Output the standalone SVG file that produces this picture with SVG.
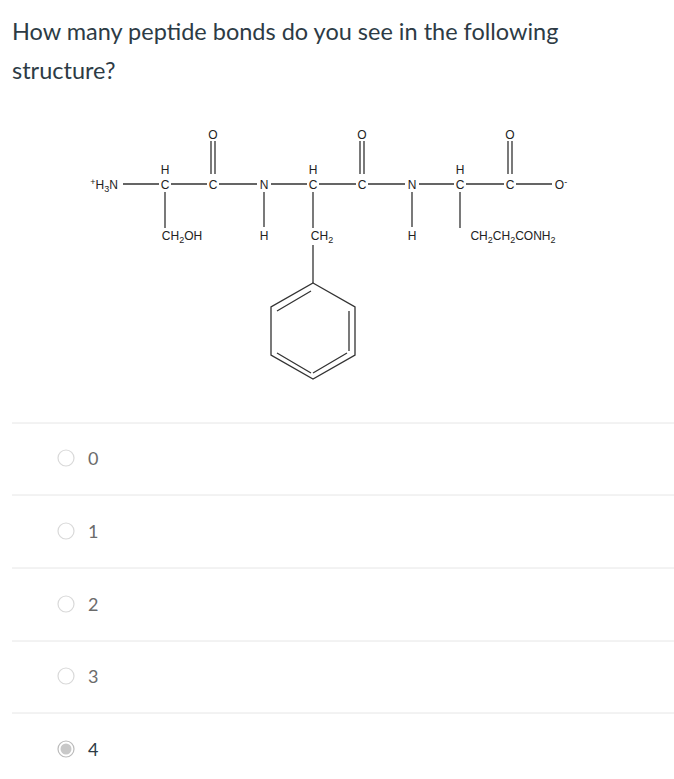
<svg xmlns="http://www.w3.org/2000/svg" width="674" height="779" viewBox="0 0 674 779">
<style>
.q{font-family:Lato,"Liberation Sans",sans-serif;font-size:23.5px;fill:#2d3b45}
.a{font-family:"Liberation Sans",Arial,sans-serif;font-size:12px;fill:#222;text-anchor:middle}
.s{font-size:9px}
.b{stroke:#333;stroke-width:1.3;fill:none}
.sep{stroke:#e6e6e6;stroke-width:1}
.r{fill:#fff;stroke:#d9d9d9;stroke-width:1.2}
.o{font-family:Lato,"Liberation Sans",sans-serif;font-size:18px;fill:#6b6b6b}
</style>
<rect width="674" height="779" fill="#fff"/>
<g id="question">
<text class="q" x="12" y="40">How many peptide bonds do you see in the following</text>
<text class="q" x="12" y="79">structure?</text>
</g>
<g id="molecule-bonds">
<path class="b" d="M123 184H159M171 184H207M219 184H257M271 184H307M319 184H356M368 184H405M419 184H454M466 184H504M516 184H552"/>
<path class="b" d="M211 141V174M215 141V174M360 141V174M364 141V174M508 141V174M512 141V174"/>
<path class="b" d="M165 192V228M264 192V227M313 192V228M412 192V227M460 192V228M313 245V283"/>
<polygon class="b" points="313,283 355,307 355,355 313,379 271,355 271,307"/>
<path class="b" d="M349 311V351M313 373L347 353M277 353L311 373M277 311 L311 291"/>
</g>
<g id="molecule-atoms">
<text class="a" x="104" y="189"><tspan class="s" dy="-4">+</tspan><tspan dy="4">H</tspan><tspan class="s" dy="3">3</tspan><tspan dy="-3">N</tspan></text>
<text class="a" x="165" y="189">C</text><text class="a" x="165" y="174">H</text>
<text class="a" x="213" y="189">C</text><text class="a" x="213" y="139">O</text>
<text class="a" x="264" y="189">N</text><text class="a" x="264" y="240">H</text>
<text class="a" x="313" y="189">C</text><text class="a" x="313" y="174">H</text>
<text class="a" x="362" y="189">C</text><text class="a" x="362" y="139">O</text>
<text class="a" x="412" y="189">N</text><text class="a" x="412" y="240">H</text>
<text class="a" x="460" y="189">C</text><text class="a" x="460" y="174">H</text>
<text class="a" x="510" y="189">C</text><text class="a" x="510" y="139">O</text>
<text class="a" x="561" y="189">O<tspan class="s" dy="-4">-</tspan></text>
<text class="a" x="182" y="240">CH<tspan class="s" dy="3">2</tspan><tspan dy="-3">OH</tspan></text>
<text class="a" x="322" y="240">CH<tspan class="s" dy="3">2</tspan></text>
<text class="a" x="513" y="240">CH<tspan class="s" dy="3">2</tspan><tspan dy="-3">CH</tspan><tspan class="s" dy="3">2</tspan><tspan dy="-3">CONH</tspan><tspan class="s" dy="3">2</tspan></text>
</g>
<g id="options">
<path class="sep" d="M12 423H674M12 495H674M12 568H674M12 641H674M12 713H674"/>
<circle class="r" cx="66" cy="458" r="8"/><text class="o" x="88" y="465">0</text>
<circle class="r" cx="66" cy="531" r="8"/><text class="o" x="88" y="538">1</text>
<circle class="r" cx="66" cy="604" r="8"/><text class="o" x="88" y="611">2</text>
<circle class="r" cx="66" cy="676" r="8"/><text class="o" x="88" y="683">3</text>
<circle cx="66" cy="749" r="8" fill="#fff" stroke="#bbb" stroke-width="1.2"/><circle cx="66" cy="749" r="5.5" fill="#c8c8c8"/>
<text class="o" x="88" y="756" style="fill:#2d3b45">4</text>
</g>
</svg>
